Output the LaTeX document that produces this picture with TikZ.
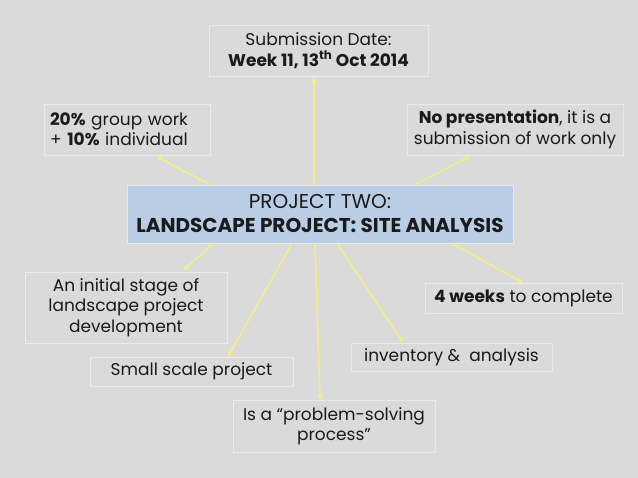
\documentclass[tikz,border=0pt]{standalone}
\usepackage{fontspec}
\setmainfont{Poppins}
\usetikzlibrary{arrows.meta}

\definecolor{slidebg}{HTML}{DADADA}
\definecolor{boxline}{HTML}{EAEAEA}
\definecolor{titlefill}{HTML}{B9CDE5}
\definecolor{rayyellow}{HTML}{F2EE86}
\definecolor{inktext}{HTML}{1A1A1A}

\begin{document}
\begin{tikzpicture}[
    x=1pt, y=-1pt,
    infobox/.style={
        rectangle,
        draw=boxline,
        line width=0.8pt,
        inner sep=0pt,
        text=inktext,
        font=\fontsize{17}{20.5}\selectfont,
        align=center
    },
    titlebox/.style={
        rectangle,
        draw=boxline,
        fill=titlefill,
        line width=0.8pt,
        inner sep=0pt,
        text=inktext,
        font=\fontsize{20}{24}\selectfont,
        align=center
    },
    ray/.style={
        draw=rayyellow,
        line width=1.6pt,
        -{Stealth[length=6pt,width=6pt]}
    }
]

% Slide background
\fill[slidebg] (0,0) rectangle (638,478);
\useasboundingbox (0,0) rectangle (638,478);

% Central title
\node[titlebox, minimum width=386pt, minimum height=58pt] (title) at (320,214)
    {PROJECT TWO:\\\textbf{LANDSCAPE PROJECT: SITE ANALYSIS}};

% Boxes above the title
\node[infobox, minimum width=219pt, minimum height=51pt] (date) at (318.5,50.5)
    {Submission Date:\\\textbf{Week 11, 13\textsuperscript{th} Oct 2014}};
\node[infobox, minimum width=166pt, minimum height=51pt, text width=154pt, align=left] (share) at (127,129.5)
    {\textbf{20\%} group work\\+ \textbf{10\%} individual};
\node[infobox, minimum width=216pt, minimum height=51pt] (nopres) at (515,129.5)
    {\textbf{No presentation}, it is a\\submission of work only};

% Boxes below the title
\node[infobox, minimum width=202pt, minimum height=71pt] (initial) at (126,307.5)
    {An initial stage of\\landscape project\\development};
\node[infobox, minimum width=203pt, minimum height=29pt] (small) at (191.5,371.5)
    {Small scale project};
\node[infobox, minimum width=202pt, minimum height=52pt] (process) at (334,426)
    {Is a ``problem-solving\\process''};
\node[infobox, minimum width=201pt, minimum height=28pt] (inventory) at (451.5,357)
    {inventory \&\ \ analysis};
\node[infobox, minimum width=197pt, minimum height=30pt] (weeks) at (523.5,298)
    {\textbf{4 weeks} to complete};

% Rays from the title
\draw[ray] ([xshift=-6pt]title.north) -- ([xshift=-4.5pt, yshift=-1pt]date.south);
\draw[ray] ([xshift=-110pt]title.north) -- ([xshift=29pt, yshift=-1pt]share.south);
\draw[ray] ([xshift=95pt]title.north) -- ([xshift=-45pt, yshift=-1pt]nopres.south);
\draw[ray] ([xshift=-107pt]title.south) -- ([xshift=57pt, yshift=1pt]initial.north);
\draw[ray] ([xshift=-28pt]title.south) -- ([xshift=36.5pt]small.north);
\draw[ray] ([xshift=-5pt]title.south) -- ([xshift=-14pt]process.north);
\draw[ray] ([xshift=17pt]title.south) -- ([xshift=-48.5pt]inventory.north);
\draw[ray] ([xshift=132pt]title.south) -- ([xshift=-0.5pt]weeks.north);

\end{tikzpicture}
\end{document}
